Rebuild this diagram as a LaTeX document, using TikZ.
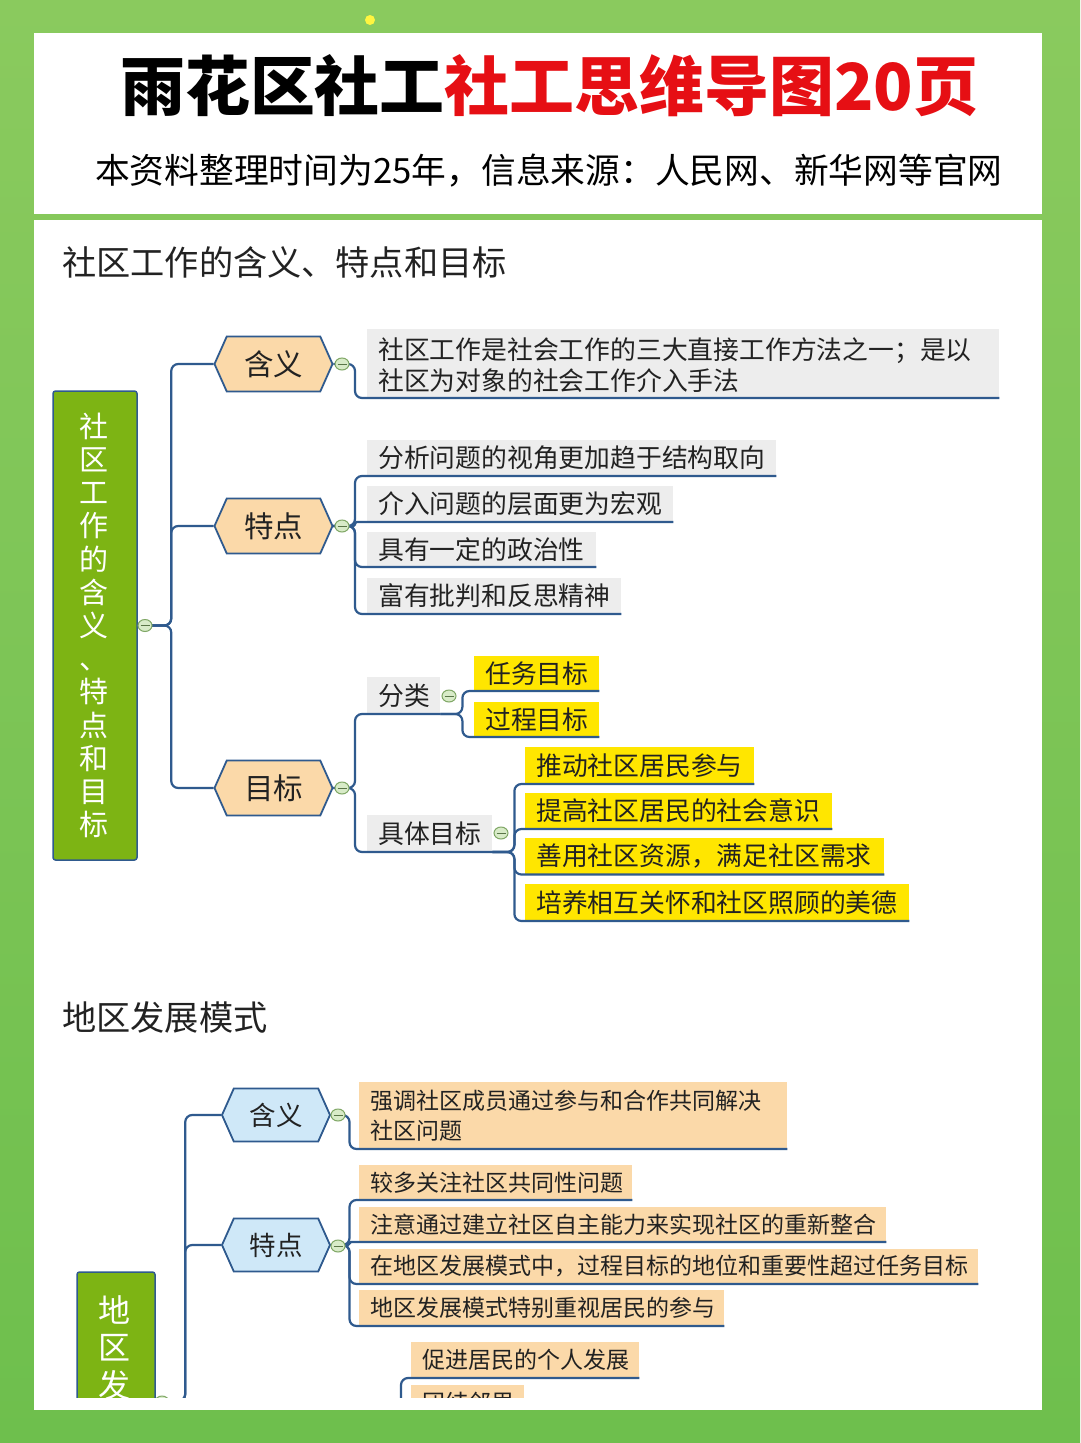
\documentclass[tikz,border=0pt]{standalone}
\usepackage{fontspec}
\setmainfont{Noto Sans CJK SC}
\usetikzlibrary{shapes.geometric,shapes.symbols}
\definecolor{bgtop}{HTML}{8ACA5E}
\definecolor{bgbot}{HTML}{6EBF4D}
\definecolor{linkblue}{HTML}{2F5A8E}
\definecolor{rootgreen}{HTML}{7DB414}
\definecolor{peach}{HTML}{FBD9A9}
\definecolor{skyblue}{HTML}{CFE8F8}
\definecolor{greybox}{HTML}{EDEDED}
\definecolor{yellowbox}{HTML}{FFE600}
\definecolor{ink}{HTML}{222222}
\definecolor{titlered}{HTML}{E60F14}
\definecolor{collgreen}{HTML}{7FA765}
\definecolor{collfill}{HTML}{D8EBC8}
\tikzset{
  root/.style={draw=linkblue,line width=1.5pt,fill=rootgreen,rounded corners=2.5pt,text=white,align=center,inner sep=0pt},
  hexa/.style={draw=linkblue,line width=1.8pt,signal,signal to=east and west,signal pointer angle=132,inner sep=0pt,text=ink},
  leaf/.style={anchor=south west,inner xsep=11pt,inner ysep=0pt,align=left,text=ink},
  leafa/.style={leaf,font=\fontsize{25.8}{31}\selectfont},
  leafb/.style={leaf,font=\fontsize{23}{30}\selectfont},
  conn/.style={draw=linkblue,line width=2.2pt,rounded corners=7pt},
  connshort/.style={conn,rounded corners=1.5pt},
  coll/.style={ellipse,draw=collgreen,fill=collfill,line width=1pt,minimum width=14pt,minimum height=12pt,inner sep=0pt,
    path picture={\draw[collgreen!70!black,line width=1pt] ([xshift=2.5pt]path picture bounding box.west) -- ([xshift=-2.5pt]path picture bounding box.east);}},
  heading/.style={anchor=west,text=ink,font=\fontsize{34.2}{40}\selectfont,inner sep=0pt},
}
\begin{document}
\begin{tikzpicture}[x=1pt,y=-1pt]
\useasboundingbox (0,0) rectangle (1080,1443);
\shade[top color=bgtop,bottom color=bgbot] (0,0) rectangle (1080,1443);
\fill[yellow!75!white] (370,20) circle (5);
\fill[white] (34,33) rectangle (1042,214);
\fill[white] (34,220) rectangle (1042,1410);

\node[anchor=west,inner sep=0pt,font=\fontsize{64.9}{70}\selectfont\bfseries] (title) at (120,86)
  {\textcolor{black}{雨花区社工}\textcolor{titlered}{社工思维导图20页}};
\node[anchor=west,inner sep=0pt,text=black,font=\fontsize{34.75}{40}\selectfont] (subtitle) at (95,171)
  {本资料整理时间为25年，信息来源：人民网、新华网等官网};
\node[heading] (head1) at (62,262.5) {社区工作的含义、特点和目标};
\node[heading] (head2) at (62,1017.5) {地区发展模式};

\begin{scope}
\clip (34,220) rectangle (1042,1397);

% ---------- first map ----------
\node[root,minimum width=84pt,minimum height=469pt,font=\fontsize{29}{33.2}\selectfont] (r1) at (95,625.5)
  {\hspace*{-2pt}社\\\hspace*{-2pt}区\\\hspace*{-2pt}工\\\hspace*{-2pt}作\\\hspace*{-2pt}的\\\hspace*{-2pt}含\\\hspace*{-2pt}义\\\hspace*{-2pt}、\\\hspace*{-2pt}特\\\hspace*{-2pt}点\\\hspace*{-2pt}和\\\hspace*{-2pt}目\\\hspace*{-2pt}标};

\foreach \n/\t/\y in {ha/含义/364,hb/特点/526,hc/目标/788}
  \node[hexa,fill=peach,minimum width=118pt,minimum height=55pt,font=\fontsize{29.5}{34}\selectfont] (\n) at (273.5,\y) {\t};

\node[leafa,fill=greybox,text width=610pt,minimum height=69pt] (la) at (367,398)
  {\rule{0pt}{26pt}社区工作是社会工作的三大直接工作方法之一；是以\\社区为对象的社会工作介入手法};
\node[leafa,fill=greybox,text width=387pt,minimum height=36pt] (lb1) at (367,476) {分析问题的视角更加趋于结构取向};
\node[leafa,fill=greybox,text width=284pt,minimum height=36pt] (lb2) at (367,522) {介入问题的层面更为宏观};
\node[leafa,fill=greybox,text width=207pt,minimum height=35pt] (lb3) at (367,567) {具有一定的政治性};
\node[leafa,fill=greybox,text width=232pt,minimum height=36pt] (lb4) at (367,614) {富有批判和反思精神};
\node[leafa,fill=greybox,text width=51pt,minimum height=37pt] (lc1) at (367,714) {分类};
\node[leafa,fill=greybox,text width=103pt,minimum height=37pt] (lc2) at (367,852) {具体目标};
\node[leafa,fill=yellowbox,text width=103pt,minimum height=35pt] (ld1) at (474,691) {任务目标};
\node[leafa,fill=yellowbox,text width=103pt,minimum height=35pt] (ld2) at (474,737) {过程目标};
\node[leafa,fill=yellowbox,text width=207pt,minimum height=37pt] (le1) at (525,784) {推动社区居民参与};
\node[leafa,fill=yellowbox,text width=285pt,minimum height=36pt] (le2) at (525,829) {提高社区居民的社会意识};
\node[leafa,fill=yellowbox,text width=337pt,minimum height=36pt] (le3) at (525,874.5) {善用社区资源，满足社区需求};
\node[leafa,fill=yellowbox,text width=362pt,minimum height=37pt] (le4) at (525,921) {培养相互关怀和社区照顾的美德};

\foreach \h in {ha,hb,hc}
  \draw[conn] (r1.east) -- ++(33.5,0) |- (\h.west);
\draw[conn] (ha.east) -- ++(21.5,0) |- (la.south east);
\foreach \l in {lb1,lb3,lb4}
  \draw[conn] (hb.east) -- ++(21.5,0) |- (\l.south east);
\draw[connshort] (hb.east) -- ++(21.5,0) |- (lb2.south east);
\foreach \l in {lc1,lc2}
  \draw[conn] (hc.east) -- ++(21.5,0) |- (\l.south east);
\foreach \l in {ld1,ld2}
  \draw[conn] (lc1.south east) -- ++(22,0) |- (\l.south east);
\foreach \l in {le1,le2,le3,le4}
  \draw[conn] (lc2.south east) -- ++(22,0) |- (\l.south east);

\node[coll] (c1) at (145,625.5) {};
\node[coll] (c2) at (342,364) {};
\node[coll] (c3) at (342,526) {};
\node[coll] (c4) at (342,788) {};
\node[coll] (c5) at (449,696) {};
\node[coll] (c6) at (501,833) {};

% ---------- second map ----------
\node[root,minimum width=78pt,minimum height=258pt] (r2) at (116,1401) {};
\node[inner sep=0pt,text=white,align=center,font=\fontsize{32}{37.5}\selectfont] (r2t) at (114,1347.5) {地\\区\\发};

\foreach \n/\t/\y in {ma/含义/1115,mb/特点/1245}
  \node[hexa,fill=skyblue,minimum width=108pt,minimum height=53pt,font=\fontsize{26.5}{32}\selectfont] (\n) at (276,\y) {\t};

\node[leafb,fill=peach,text width=406pt,minimum height=67pt] (pa) at (359,1149)
  {强调社区成员通过参与和合作共同解决\\社区问题};
\node[leafb,fill=peach,text width=251pt,minimum height=35pt] (pb1) at (359,1200) {较多关注社区共同性问题};
\node[leafb,fill=peach,text width=505pt,minimum height=35pt] (pb2) at (359,1242) {注意通过建立社区自主能力来实现社区的重新整合};
\node[leafb,fill=peach,text width=597pt,minimum height=35pt] (pb3) at (359,1284) {在地区发展模式中，过程目标的地位和重要性超过任务目标};
\node[leafb,fill=peach,text width=343pt,minimum height=36pt] (pb4) at (359,1326) {地区发展模式特别重视居民的参与};
\node[leafb,fill=peach,text width=206pt,minimum height=36pt] (pc1) at (411,1378) {促进居民的个人发展};
\node[leafb,fill=peach,text width=91pt,minimum height=35pt] (pc2) at (411,1420) {团结邻里};

\foreach \h in {ma,mb}
  \draw[conn] (r2.east) -- ++(29.5,0) |- (\h.west);
\draw[conn] (ma.east) -- ++(18.5,0) |- (pa.south east);
\foreach \l in {pb1,pb3,pb4}
  \draw[conn] (mb.east) -- ++(18.5,0) |- (\l.south east);
\draw[connshort] (mb.east) -- ++(18.5,0) |- (pb2.south east);
\coordinate (pfork) at (401,1430);
\draw[conn] (pfork) |- (pc1.south east);
\draw[conn] (pfork) |- (pc2.south east);

\node[coll] (c7) at (338,1115) {};
\node[coll] (c8) at (338,1246) {};
\node[coll] (c9) at (162,1402) {};
\end{scope}
\end{tikzpicture}
\end{document}
